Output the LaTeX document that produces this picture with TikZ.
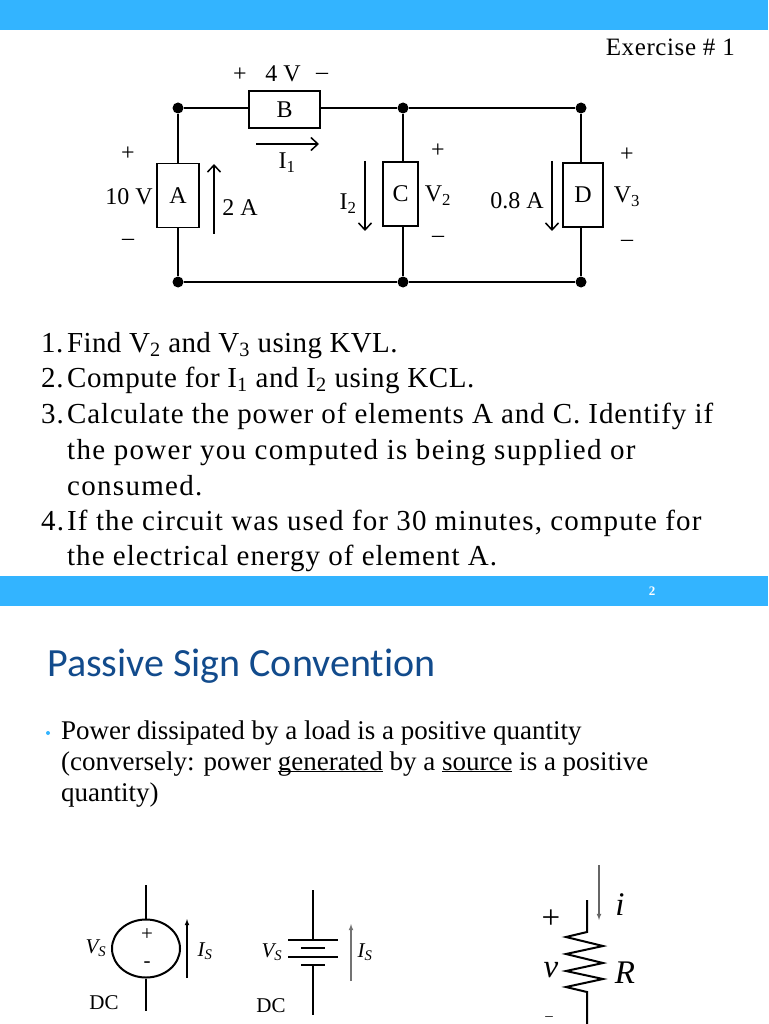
\documentclass[tikz,border=0pt]{standalone}
\usepackage{fontspec}
\setmainfont{Liberation Serif}
\newfontfamily\titlefont[Ligatures=NoCommon]{Carlito}
\usetikzlibrary{arrows,arrows.meta,shapes.geometric}
\definecolor{barblue}{RGB}{51,180,255}
\definecolor{titleblue}{RGB}{18,75,140}
\newcommand{\itm}[1]{\makebox[26pt][l]{#1}}
\newcommand{\ulword}[1]{\underline{\smash{#1}}}
\tikzset{
  wire/.style={line width=1.7pt},
  elem/.style={draw, line width=1.6pt, fill=white, inner sep=0pt, font=\fontsize{24}{26}\selectfont},
  junction/.style={circle, fill=black, inner sep=0pt, minimum size=11pt},
  lbl/.style={inner sep=0pt, font=\fontsize{24}{26}\selectfont},
  sign/.style={inner sep=0pt, font=\fontsize{24}{26}\selectfont},
  txtline/.style={anchor=base west, inner sep=0pt, font=\fontsize{29}{31}\selectfont},
  bodyline/.style={anchor=base west, inner sep=0pt, font=\fontsize{27}{29}\selectfont},
  sym/.style={inner sep=0pt, font=\fontsize{21}{23}\selectfont},
  bigsym/.style={inner sep=0pt, font=\fontsize{33}{35}\selectfont\itshape},
  thinarrow/.style={line width=1.1pt, -latex},
  barb/.style={-{Straight Barb[length=7pt,width=13pt]}, line width=1.5pt}
}
\begin{document}
\begin{tikzpicture}[x=1pt, y=-1pt]
  \useasboundingbox (0,0) rectangle (768,1024);
  \fill[barblue] (0,0) rectangle (768,30);
  \fill[barblue] (0,576) rectangle (768,606);
  % circuit
  \node[junction] (tl) at (178,108) {};
  \node[junction] (tm) at (403,108) {};
  \node[junction] (tr) at (581,108) {};
  \node[junction] (bl) at (178,282) {};
  \node[junction] (bm) at (403,282) {};
  \node[junction] (br) at (581,282) {};
  \node[elem, minimum width=71pt, minimum height=37pt] (B) at (284.5,109.5) {B};
  \node[elem, minimum width=42pt, minimum height=64pt] (A) at (178,195.5) {A};
  \node[elem, minimum width=35pt, minimum height=64pt] (C) at (400.5,194) {C};
  \node[elem, minimum width=40pt, minimum height=64pt] (D) at (583,195) {D};
  \path[wire]
  (tl) edge (tl -| B.west)
  (tm -| B.east) edge (tm)
  (tm) edge (tr)
  (tl) edge (A)
  (A) edge (bl)
  (tm) edge (tm |- C.north)
  (tm |- C.south) edge (bm)
  (tr) edge (tr |- D.north)
  (tr |- D.south) edge (br)
  (bl) edge (bm)
  (bm) edge (br)
;
  \coordinate (i1s) at (256,144);
  \coordinate (i1e) at (319,144);
  \coordinate (i2s) at (365,161);
  \coordinate (i2e) at (365,231);
  \coordinate (ias) at (214,234);
  \coordinate (iae) at (214,164);
  \coordinate (ids) at (552,161);
  \coordinate (ide) at (552,231);
  \path[barb]
  (i1s) edge (i1e)
  (i2s) edge (i2e)
  (ias) edge (iae)
  (ids) edge (ide)
;
  \node[lbl] (v4) at (283,74) {4 V};
  \node[sign] (v4p) at (240,75) {+};
  \node[sign] (v4m) at (322,76) {\textendash};
  \node[lbl] (v10) at (129,197) {10 V};
  \node[sign] (v10p) at (128,154) {+};
  \node[sign] (v10m) at (128,242) {\textendash};
  \node[lbl] (ia) at (240,208) {2 A};
  \node[lbl] (i1) at (287,163) {I\textsubscript{1}};
  \node[lbl] (i2) at (348,204) {I\textsubscript{2}};
  \node[lbl] (v2) at (438,196) {V\textsubscript{2}};
  \node[sign] (v2p) at (438,151) {+};
  \node[sign] (v2m) at (438,239) {\textendash};
  \node[lbl] (id) at (517,201) {0.8 A};
  \node[lbl] (v3) at (627,197) {V\textsubscript{3}};
  \node[sign] (v3p) at (627,155) {+};
  \node[sign] (v3m) at (627,243) {\textendash};
  \node[anchor=base east, inner sep=0pt, font=\fontsize{25}{27}\selectfont\addfontfeature{LetterSpace=2.4}] (ex) at (735,56) {Exercise \# 1};
  % problem list
  \foreach \nm/\xx/\yy/\ls/\txt in {
    la/41/352/1.25/{\itm{1.}Find V\textsubscript{2} and V\textsubscript{3} using KVL.},
    lb/41/387/1.95/{\itm{2.}Compute for I\textsubscript{1} and I\textsubscript{2} using KCL.},
    lc/41/423/3.05/{\itm{3.}Calculate the power of elements A and C. Identify if},
    ld/67/459/4.5/{the power you computed is being supplied or},
    le/67/495/4.5/{consumed.},
    lf/41/530/3.9/{\itm{4.}If the circuit was used for 30 minutes, compute for},
    lg/67/565/3.5/{the electrical energy of element A.}}
    \node[txtline] (\nm) at (\xx,\yy) {\addfontfeature{LetterSpace=\ls}\txt};
  \node[text=white, inner sep=0pt, font=\fontsize{13}{15}\selectfont\bfseries] (pg) at (652,591) {2};
  \node[anchor=base west, inner sep=0pt, text=titleblue, font=\titlefont\fontsize{40}{42}\selectfont] (title) at (47,676) {Passive Sign Convention};
  \node[circle, fill=barblue, inner sep=0pt, minimum size=4pt] (bul) at (48,733) {};
  \node[bodyline] (pa) at (61,739) {Power dissipated by a load is a positive quantity};
  \node[bodyline] (pb) at (61,770) {(conversely: power \ulword{generated} by a \ulword{source} is a positive};
  \node[bodyline] (pc) at (61,801) {quantity)};
  % dc source
  \node[draw, ellipse, line width=2pt, minimum width=68pt, minimum height=58pt, inner sep=0pt] (src) at (146,948.5) {};
  \coordinate (srct) at (146,885);
  \coordinate (srcb) at (146,1011);
  \path[line width=2pt] (srct) edge (src) (src) edge (srcb);
  \node[sym] (sp) at (147,935) {+};
  \node[sym] (sm) at (147,965) {-};
  \coordinate (ss) at (187,978);
  \coordinate (se) at (187,919);
  \draw[thinarrow] (ss) -- (se);
  \node[sym] (vs) at (96,948) {\textit{V\textsubscript{S}}};
  \node[sym] (is) at (205,951) {\textit{I\textsubscript{S}}};
  \node[sym] (dca) at (104,1003) {DC};
  % battery
  \coordinate (bt) at (313,890);
  \coordinate (bb) at (313,1015);
  \coordinate (p1) at (313,940);
  \coordinate (p4) at (313,965);
  \draw[line width=1.6pt] (bt) -- (p1);
  \draw[line width=1.6pt] (p4) -- (bb);
  \draw[line width=2.4pt] (288,940) -- (338,940);
  \draw[line width=2.6pt] (301,948) -- (325,948);
  \draw[line width=2.2pt] (288,957) -- (338,957);
  \draw[line width=2.2pt] (301,965) -- (325,965);
  \coordinate (bs) at (351,981);
  \coordinate (be) at (351,924);
  \draw[thinarrow, black!55] (bs) -- (be);
  \node[sym] (vb) at (272,952) {\textit{V\textsubscript{S}}};
  \node[sym] (ib) at (365,952) {\textit{I\textsubscript{S}}};
  \node[sym] (dcb) at (271,1006) {DC};
  % resistor
  \draw[line width=2pt] (587,900) -- (587,932) -- (566,937) -- (603,946) -- (566,954) -- (603,963) -- (566,971) -- (603,979) -- (566,987) -- (587,992) -- (587,1024);
  \coordinate (rs) at (599,865);
  \coordinate (re) at (599,920);
  \draw[thinarrow, black!60] (rs) -- (re);
  \node[inner sep=0pt, font=\fontsize{33}{35}\selectfont] (rp) at (551,919) {+};
  \node[anchor=base, inner sep=0pt, font=\fontsize{15}{16}\selectfont] (rm) at (549,1020) {\textendash};
  \node[bigsym] (rv) at (551,970) {v};
  \node[bigsym] (rr) at (625,973) {R};
  \node[bigsym] (ri) at (620,905) {i};
\end{tikzpicture}
\end{document}
